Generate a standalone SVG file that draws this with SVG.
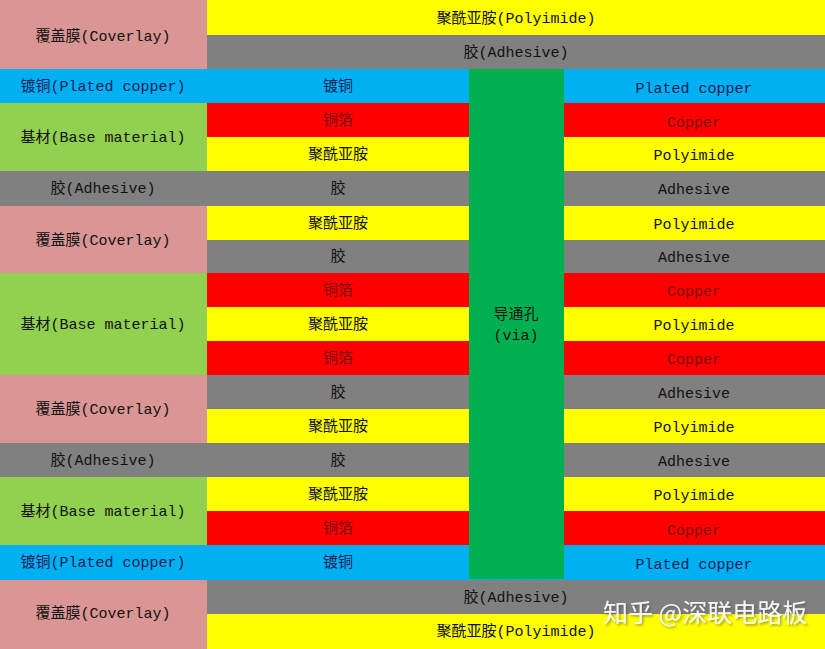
<svg xmlns="http://www.w3.org/2000/svg" width="825" height="649" viewBox="0 0 825 649">
<defs>
<filter id="sh" x="-10%" y="-30%" width="120%" height="160%">
<feDropShadow dx="1.5" dy="1.5" stdDeviation="1" flood-color="#444" flood-opacity="0.6"/>
</filter>
</defs>
<style>
text{font-family:"Liberation Mono","Noto Sans CJK SC",monospace;font-size:15px;text-anchor:middle;fill:#111}
.pk{fill:#D99694}.gn{fill:#92D050}.bl{fill:#00B0F0}.ye{fill:#FFFF00}.rd{fill:#FF0000}.gy{fill:#808080}.via{fill:#00B050}
text.cu{fill:#7a0a0a}
text.pc{fill:#0a1f5c}
text.wm{font-family:"Noto Sans CJK SC","Noto Sans",sans-serif;font-size:25px;text-anchor:start;fill:#fff;fill-opacity:0.92}
</style>
<g id="left">
<g id="L1"><rect class="pk" x="0" y="0" width="207" height="69"/><text x="103" y="41">覆盖膜(Coverlay)</text></g>
<g id="L2"><rect class="bl" x="0" y="69" width="207" height="34"/><text class="pc" x="103" y="91">镀铜(Plated copper)</text></g>
<g id="L3"><rect class="gn" x="0" y="103" width="207" height="68"/><text x="103" y="142">基材(Base material)</text></g>
<g id="L4"><rect class="gy" x="0" y="171" width="207" height="35"/><text x="103" y="193">胶(Adhesive)</text></g>
<g id="L5"><rect class="pk" x="0" y="206" width="207" height="67"/><text x="103" y="245">覆盖膜(Coverlay)</text></g>
<g id="L6"><rect class="gn" x="0" y="273" width="207" height="102"/><text x="103" y="329">基材(Base material)</text></g>
<g id="L7"><rect class="pk" x="0" y="375" width="207" height="68"/><text x="103" y="414">覆盖膜(Coverlay)</text></g>
<g id="L8"><rect class="gy" x="0" y="443" width="207" height="34"/><text x="103" y="465">胶(Adhesive)</text></g>
<g id="L9"><rect class="gn" x="0" y="477" width="207" height="68"/><text x="103" y="516">基材(Base material)</text></g>
<g id="L10"><rect class="bl" x="0" y="545" width="207" height="35"/><text class="pc" x="103" y="567">镀铜(Plated copper)</text></g>
<g id="L11"><rect class="pk" x="0" y="580" width="207" height="69"/><text x="103" y="618">覆盖膜(Coverlay)</text></g>
</g>
<g id="layers">
<g id="R1"><rect class="ye" x="207" y="0" width="618" height="35"/><text x="516" y="23">聚酰亚胺(Polyimide)</text></g>
<g id="R2"><rect class="gy" x="207" y="35" width="618" height="34"/><text x="516" y="57">胶(Adhesive)</text></g>
<g id="R3"><rect class="bl" x="207" y="69" width="618" height="34"/><text class="pc" x="338" y="91">镀铜</text><text class="pc" x="694" y="93">Plated copper</text></g>
<g id="R4"><rect class="rd" x="207" y="103" width="618" height="34"/><text class="cu" x="338" y="125">铜箔</text><text class="cu" x="694" y="127">Copper</text></g>
<g id="R5"><rect class="ye" x="207" y="137" width="618" height="34"/><text x="338" y="159">聚酰亚胺</text><text x="694" y="160">Polyimide</text></g>
<g id="R6"><rect class="gy" x="207" y="171" width="618" height="35"/><text x="338" y="193">胶</text><text x="694" y="194">Adhesive</text></g>
<g id="R7"><rect class="ye" x="207" y="206" width="618" height="34"/><text x="338" y="228">聚酰亚胺</text><text x="694" y="229">Polyimide</text></g>
<g id="R8"><rect class="gy" x="207" y="240" width="618" height="33"/><text x="338" y="261">胶</text><text x="694" y="262">Adhesive</text></g>
<g id="R9"><rect class="rd" x="207" y="273" width="618" height="34"/><text class="cu" x="338" y="295">铜箔</text><text class="cu" x="694" y="296">Copper</text></g>
<g id="R10"><rect class="ye" x="207" y="307" width="618" height="34"/><text x="338" y="329">聚酰亚胺</text><text x="694" y="330">Polyimide</text></g>
<g id="R11"><rect class="rd" x="207" y="341" width="618" height="34"/><text class="cu" x="338" y="363">铜箔</text><text class="cu" x="694" y="364">Copper</text></g>
<g id="R12"><rect class="gy" x="207" y="375" width="618" height="34"/><text x="338" y="397">胶</text><text x="694" y="398">Adhesive</text></g>
<g id="R13"><rect class="ye" x="207" y="409" width="618" height="34"/><text x="338" y="431">聚酰亚胺</text><text x="694" y="432">Polyimide</text></g>
<g id="R14"><rect class="gy" x="207" y="443" width="618" height="34"/><text x="338" y="465">胶</text><text x="694" y="466">Adhesive</text></g>
<g id="R15"><rect class="ye" x="207" y="477" width="618" height="34"/><text x="338" y="499">聚酰亚胺</text><text x="694" y="500">Polyimide</text></g>
<g id="R16"><rect class="rd" x="207" y="511" width="618" height="34"/><text class="cu" x="338" y="533">铜箔</text><text class="cu" x="694" y="535">Copper</text></g>
<g id="R17"><rect class="bl" x="207" y="545" width="618" height="35"/><text class="pc" x="338" y="567">镀铜</text><text class="pc" x="694" y="569">Plated copper</text></g>
<g id="R18"><rect class="gy" x="207" y="580" width="618" height="34"/><text x="516" y="602">胶(Adhesive)</text></g>
<g id="R19"><rect class="ye" x="207" y="614" width="618" height="35"/><text x="516" y="636">聚酰亚胺(Polyimide)</text></g>
</g>
<g id="via">
<rect class="via" x="469" y="69" width="95" height="510"/>
<text x="516" y="319">导通孔</text>
<text x="516" y="340">(via)</text>
</g>
<g id="connectors"/>
<g id="watermark">
<text class="wm" x="603" y="622" filter="url(#sh)">知乎 @深联电路板</text>
</g>
</svg>
